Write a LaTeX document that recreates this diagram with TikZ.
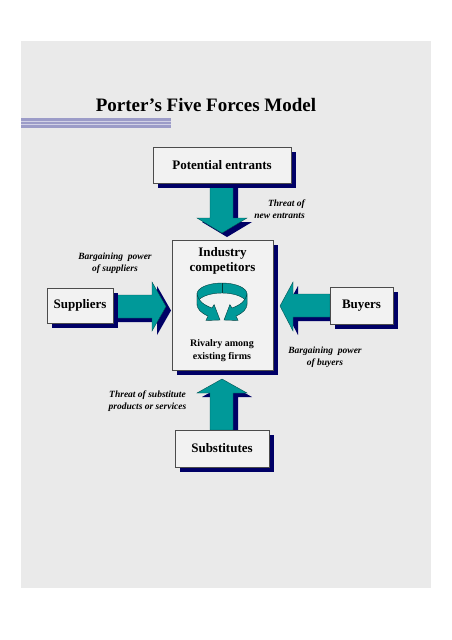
\documentclass[tikz,border=0pt]{standalone}
\usepackage{fontspec}
\setmainfont{Liberation Serif}
\usetikzlibrary{shadows}
\definecolor{bg}{HTML}{EAEAEA}
\definecolor{tealc}{HTML}{009999}
\definecolor{navy}{HTML}{000066}
\definecolor{boxfill}{HTML}{F2F2F2}
\definecolor{stripe}{HTML}{9C9CC8}
\newcommand\myblk[1]{\fill[navy,shift={(5,4)}] #1; \filldraw[blockarr] #1;}
\begin{document}
\begin{tikzpicture}[x=1pt,y=-1pt,
  box/.style={draw=black!70, fill=boxfill, line width=0.8pt, inner sep=0pt, align=center,
    font=\fontsize{13}{15}\selectfont\bfseries,
    drop shadow={shadow xshift=5pt, shadow yshift=-5pt, fill=navy, opacity=1}},
  blockarr/.style={fill=tealc, draw=tealc!55!black, line width=0.4pt},
  lbl/.style={font=\fontsize{9.5}{12}\selectfont\bfseries\itshape, inner sep=0pt},
  ring/.style={fill=tealc, draw=tealc!40!black, line width=0.4pt}]
\useasboundingbox (0,0) rectangle (452,640);
\fill[white] (0,0) rectangle (452,640);
\fill[bg] (21,41) rectangle (431,588);
% title
\node[font=\fontsize{19}{23}\selectfont\bfseries, inner sep=0pt] (title) at (206,104.5) {Porter’s Five Forces Model};
\fill[stripe] (21,118) rectangle (171,128);
\draw[stripe!45!white, line width=0.8pt] (21,121.4) -- (171,121.4) (21,124.6) -- (171,124.6);
% block arrows
\myblk{(210,183) -- (233,183) -- (233,218) -- (247,218) -- (222,233) -- (197,218) -- (210,218) -- cycle}
\myblk{(113,295) -- (152,295) -- (152,282) -- (166,306.5) -- (152,331) -- (152,318) -- (113,318) -- cycle}
\myblk{(330,294) -- (293,294) -- (293,282) -- (280,306) -- (293,331) -- (293,317) -- (330,317) -- cycle}
\myblk{(210,430) -- (210,393) -- (197,393) -- (222,379) -- (247,393) -- (233,393) -- (233,430) -- cycle}
% boxes
\node[box, minimum width=138pt, minimum height=36pt] (pe) at (222,165) {Potential entrants};
\node[box, minimum width=101pt, minimum height=130pt] (ic) at (222.5,305) {};
\node[box, minimum width=66pt, minimum height=35pt] (su) at (80,305.5) {Suppliers};
\node[box, minimum width=63pt, minimum height=37pt] (bu) at (361.5,305.5) {Buyers};
\node[box, minimum width=94pt, minimum height=37pt] (sb) at (222,448.5) {Substitutes};
% industry contents
\node[font=\fontsize{13}{15}\selectfont\bfseries, align=center, inner sep=0pt] (ict) at (222.5,260.5) {Industry\\competitors};
\node[font=\fontsize{10}{12.5}\selectfont\bfseries, align=center, inner sep=0pt] (riv) at (222,350.5) {Rivalry among\\existing firms};
% circular arrow
\filldraw[ring] (197,294) arc[start angle=180, end angle=360, x radius=25, y radius=11]
  -- (247,304) arc[start angle=0, end angle=-180, x radius=25, y radius=11] -- cycle;
\draw[tealc!40!black, line width=0.4pt] (222,283) -- (222,293);
\filldraw[ring] (197,294) .. controls (198,301) and (204,305) .. (212,308) -- (214.1,304.6)
  -- (220,320) -- (205.9,320.5) -- (208,316) .. controls (201,313) and (197,309) .. (197,304) -- cycle;
\filldraw[ring] (247,294) .. controls (246,301) and (240,305) .. (232,308) -- (229.9,304.6)
  -- (224,320) -- (238.1,320.5) -- (236,316) .. controls (243,313) and (247,309) .. (247,304) -- cycle;
% labels
\node[lbl, align=right, anchor=east] (l1) at (305,209) {Threat of\\new entrants};
\node[lbl, align=center] (l2) at (115,263.5) {Bargaining\ \ power\\of suppliers};
\node[lbl, align=center] (l3) at (325,357) {Bargaining\ \ power\\of buyers};
\node[lbl, align=center] (l4) at (147.5,401) {Threat of substitute\\products or services};
\end{tikzpicture}
\end{document}
